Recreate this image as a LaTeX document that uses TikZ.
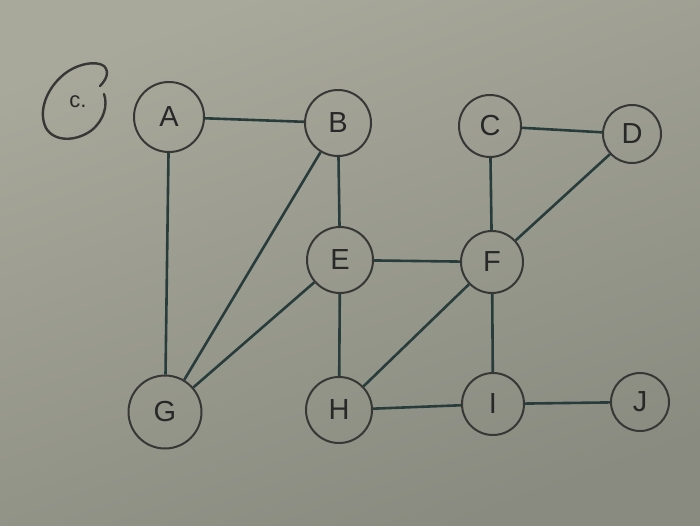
\documentclass[tikz,border=0pt]{standalone}
\usepackage{fontspec}
\setmainfont{Liberation Sans}
\definecolor{bgtop}{RGB}{168,169,155}
\definecolor{bgbot}{RGB}{138,139,128}
\definecolor{edgec}{RGB}{40,60,60}
\definecolor{ringc}{RGB}{55,55,53}
\definecolor{txtc}{RGB}{40,40,40}
\begin{document}
\begin{tikzpicture}[x=1pt,y=-1pt,
  vert/.style={circle,draw=ringc,line width=2pt,inner sep=0pt,text=txtc,font=\fontsize{29}{29}\selectfont},
  edge/.style={draw=edgec,line width=2.6pt}]
\shade[top color=bgtop,bottom color=bgbot,shading angle=20] (0,0) rectangle (700,525);
\useasboundingbox (0,0) rectangle (700,525);
\node[vert,minimum size=70pt] (A) at (169,117) {A};
\node[vert,minimum size=66pt] (B) at (338,123) {B};
\node[vert,minimum size=62pt] (C) at (490,126) {C};
\node[vert,minimum size=58pt] (D) at (632,134) {D};
\node[vert,minimum size=66pt] (E) at (340,260) {E};
\node[vert,minimum size=62pt] (F) at (492,262) {F};
\node[vert,minimum size=73pt] (G) at (165,412) {G};
\node[vert,minimum size=66pt] (H) at (339,410) {H};
\node[vert,minimum size=62pt] (I) at (493,404) {I};
\node[vert,minimum size=58pt] (J) at (640,402) {J};
\foreach \a/\b in {A/B,A/G,B/G,B/E,C/D,C/F,D/F,E/F,E/G,E/H,F/H,F/I,H/I,I/J}
  \draw[edge] (\a) -- (\b);
\node[text=txtc,font=\fontsize{22}{22}\selectfont] (lbl) at (78,102) {c.};
\draw[ringc,line width=2.4pt,line cap=round] (100,86) .. controls (106,80) and (110,72) .. (104,66)
  .. controls (96,60) and (75,64) .. (62,76)
  .. controls (46,90) and (38,112) .. (46,128)
  .. controls (54,142) and (76,142) .. (92,130)
  .. controls (104,120) and (108,105) .. (104,94);
\end{tikzpicture}
\end{document}
